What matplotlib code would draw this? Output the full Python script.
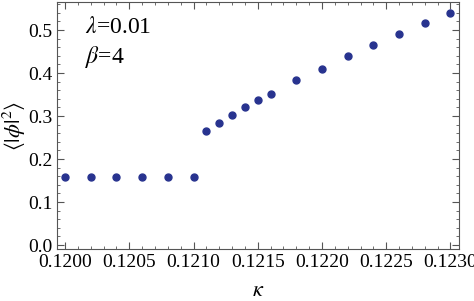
import matplotlib.pyplot as plt
from matplotlib.ticker import MultipleLocator

kappa = [0.1200, 0.1202, 0.1204, 0.1206, 0.1208, 0.1210,
         0.1211, 0.1212, 0.1213, 0.1214, 0.1215, 0.1216,
         0.1218, 0.1220, 0.1222, 0.1224, 0.1226, 0.1228, 0.1230]
phi2 = [0.158, 0.158, 0.158, 0.158, 0.158, 0.158,
        0.266, 0.284, 0.303, 0.321, 0.337, 0.351,
        0.383, 0.410, 0.440, 0.466, 0.491, 0.516, 0.540]
xticks = [0.1200, 0.1205, 0.1210, 0.1215, 0.1220, 0.1225, 0.1230]
yticks = [0.0, 0.1, 0.2, 0.3, 0.4, 0.5]

plt.rcParams['font.family'] = ['Liberation Serif', 'DejaVu Serif']
plt.rcParams['mathtext.fontset'] = 'stix'

fig = plt.figure(figsize=(4.74, 3.01), dpi=100)
ax = fig.add_axes([0.121, 0.173, 0.847, 0.820])
ax.plot(kappa, phi2, 'o', color='#28338f', markersize=5)

ax.set_xlim(0.11994, 0.123065)
ax.set_ylim(-0.009, 0.565)
ax.set_xticks(xticks)
ax.set_xticklabels(["%.4f" % t for t in xticks])
ax.set_yticks(yticks)
ax.set_yticklabels(["%.1f" % t for t in yticks])
ax.xaxis.set_minor_locator(MultipleLocator(0.0001))
ax.yaxis.set_minor_locator(MultipleLocator(0.02))
ax.tick_params(which='both', direction='in', top=True, right=True, color='#555555', labelsize=14)
ax.tick_params(which='major', length=5)
ax.tick_params(which='minor', length=2.5)
for s in ax.spines.values():
    s.set_color('#555555')

ax.set_xlabel(r'$\kappa$', fontsize=16, labelpad=8)
ax.set_ylabel(r'$\langle|\phi|^2\rangle$', fontsize=16, labelpad=0)
ax.text(0.069, 0.875, r'$\lambda$=0.01', transform=ax.transAxes, fontsize=17)
ax.text(0.069, 0.753, r'$\beta$=4', transform=ax.transAxes, fontsize=17)

fig.savefig('out.png', dpi=100)
